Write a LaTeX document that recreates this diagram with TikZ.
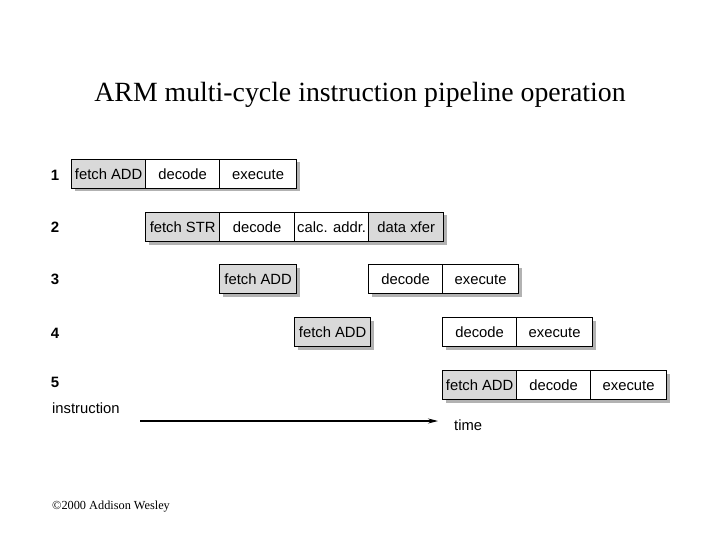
\documentclass[tikz,border=0pt]{standalone}
\usepackage{fontspec}
\setmainfont{Liberation Serif}
\setsansfont{Liberation Sans}
\usetikzlibrary{shadows,arrows.meta}
\begin{document}
\begin{tikzpicture}[x=1pt,y=-1pt,
  cell/.style={draw=black,line width=1.3pt,minimum width=74pt,minimum height=29pt,inner sep=0pt,anchor=west,
     text height=10.6pt,text depth=0pt,
     font=\sffamily\fontsize{14.8}{16}\selectfont,
     drop shadow={shadow xshift=3pt,shadow yshift=-3pt,fill=black!30,opacity=1}},
  wcell/.style={cell,fill=white},
  gcell/.style={cell,fill=black!15},
  num/.style={font=\sffamily\bfseries\fontsize{15}{17}\selectfont},
  lab/.style={font=\sffamily\fontsize{14.8}{16}\selectfont,inner sep=0pt},
  arr/.style={line width=1.2pt,-{Stealth[length=10pt,width=5pt]}}]
\useasboundingbox (0,0) rectangle (720,540);
\node[font=\fontsize{27.8}{30}\selectfont] (title) at (360,95) {ARM multi-cycle instruction pipeline operation};
% row labels
\node[num] (n1) at (55,175) {1};
\node[num] (n2) at (55,227) {2};
\node[num] (n3) at (55,279) {3};
\node[num] (n4) at (55,333) {4};
\node[num] (n5) at (55,382) {5};
\node[lab,anchor=west] (instr) at (52,408) {instruction};
% row 1
\node[gcell] (r1a) at (71,174) {fetch ADD};
\node[wcell] (r1b) at (145,174) {decode};
\node[wcell,minimum width=77pt] (r1c) at (219,174) {execute};
% row 2
\node[gcell] (r2a) at (145,227) {fetch STR};
\node[wcell,minimum width=75pt] (r2b) at (219,227) {decode};
\node[wcell] (r2c) at (294,227) {calc. addr.};
\node[gcell,minimum width=75pt] (r2d) at (368,227) {data xfer};
% row 3
\node[gcell,minimum width=77pt] (r3a) at (219,279) {fetch ADD};
\node[wcell] (r3b) at (368,279) {decode};
\node[wcell,minimum width=76pt] (r3c) at (442,279) {execute};
% row 4
\node[gcell,minimum width=76pt] (r4a) at (294,332) {fetch ADD};
\node[wcell] (r4b) at (442,332) {decode};
\node[wcell,minimum width=76pt] (r4c) at (516,332) {execute};
% row 5
\node[gcell] (r5a) at (442,385) {fetch ADD};
\node[wcell] (r5b) at (516,385) {decode};
\node[wcell,minimum width=76pt] (r5c) at (590,385) {execute};
% time arrow
\coordinate (as) at (140,421);
\coordinate (ae) at (438,421);
\draw[arr] (as) -- (ae);
\node[lab,anchor=west] (time) at (454,425) {time};
% copyright
\node[font=\fontsize{12.3}{14}\selectfont,anchor=west,inner sep=0pt] (copy) at (52,507) {©2000 Addison Wesley};
\end{tikzpicture}
\end{document}
